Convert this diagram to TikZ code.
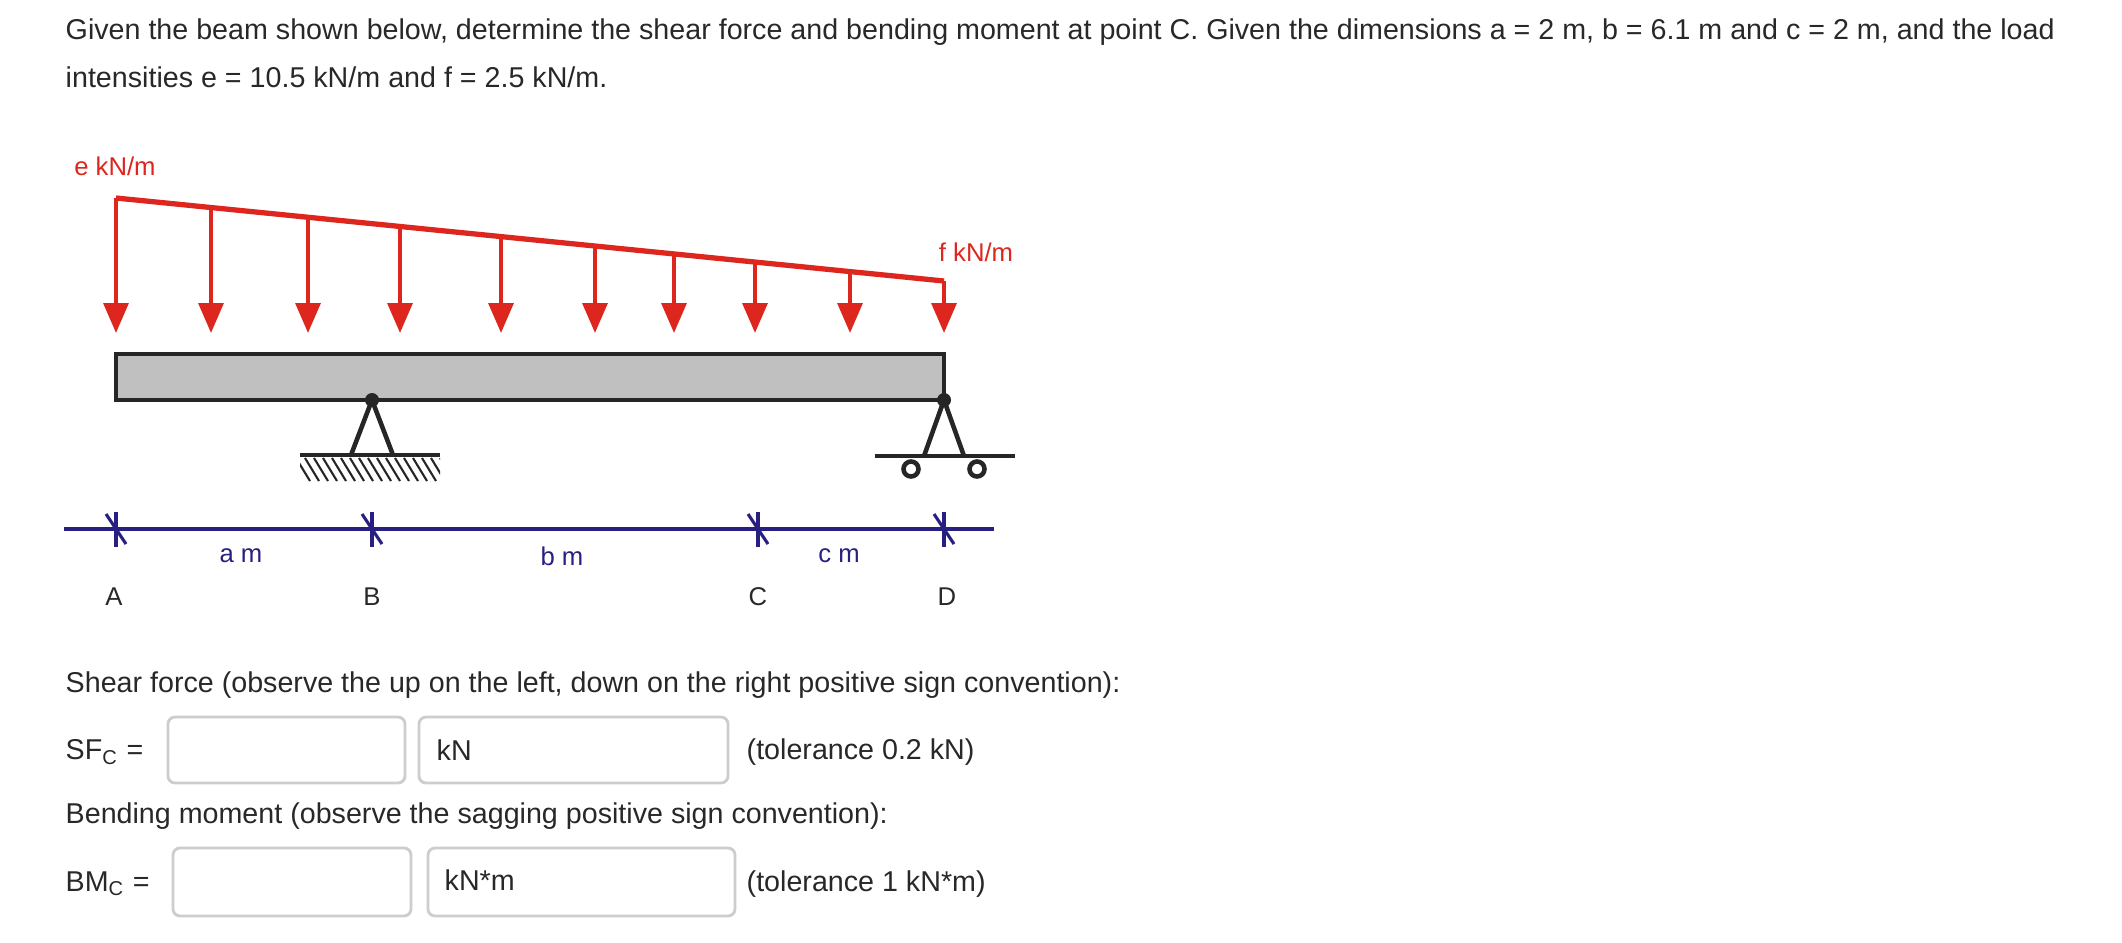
\documentclass[tikz,border=0pt]{standalone}
\usepackage{fontspec}
\setmainfont{Liberation Sans}
\usetikzlibrary{arrows.meta}
\definecolor{lred}{RGB}{221,38,30}
\definecolor{dimblue}{RGB}{40,32,128}
\definecolor{beamgray}{RGB}{192,192,192}
\definecolor{txt}{RGB}{40,40,40}
\definecolor{boxline}{RGB}{205,205,205}
\tikzset{
  q/.style={font=\fontsize{8.15}{10}\selectfont, text=txt, inner sep=0pt, anchor=west},
  lbl/.style={font=\fontsize{7.3}{8}\selectfont, inner sep=0pt},
  load/.style={draw=lred, line width=1.2pt, -{Triangle[length=8.5pt,width=7pt]}},
  ansbox/.style={draw=boxline, line width=0.8pt, rounded corners=2pt, fill=white},
  dimline/.style={draw=dimblue, line width=0.9pt},
  sup/.style={line width=1.3pt, draw=black!85}
}
\begin{document}
\begin{tikzpicture}[x=0.01cm,y=-0.01cm]
\useasboundingbox (0,0) rectangle (2122,942);
% question text
\node[q] (t1) at (65,32) {Given the beam shown below, determine the shear force and bending moment at point C. Given the dimensions a = 2 m, b = 6.1 m and c = 2 m, and the load};
\node[q] (t2) at (65,77) {intensities e = 10.5 kN/m and f = 2.5 kN/m.};
% load
\node[lbl, text=lred] (el) at (115,166) {e kN/m};
\node[lbl, text=lred] (fl) at (976,252) {f kN/m};
\coordinate (L0) at (116,198);
\coordinate (L1) at (944,281);
\draw[lred, line width=1.5pt] (L0) -- (L1);
\foreach \x [count=\i] in {116,211,308,400,501,595,674,755,850,944}{
  \pgfmathsetmacro\yy{198+(\x-116)/828*83}
  \coordinate (ls\i) at (\x,\yy);
  \coordinate (le\i) at (\x,333);
  \draw[load] (ls\i) -- (le\i);
}
% beam
\fill[beamgray, draw=black!85, line width=1pt] (116,354) rectangle (944,400);
% support B
\coordinate (pB) at (372,400);
\draw[sup] (pB) -- (351,455) (pB) -- (393,455);
\fill[black!85] (pB) circle (7);
\draw[sup] (300,455) -- (440,455);
\begin{scope}
\clip (300,456) rectangle (440,481);
\foreach \k in {0,...,16}{
  \draw[black!85, line width=0.6pt] (296+\k*9,458) -- (310+\k*9,481);
}
\end{scope}
% roller D
\coordinate (pD) at (944,400);
\draw[sup] (pD) -- (924,456) (pD) -- (964,456);
\fill[black!85] (pD) circle (7);
\draw[sup] (875,456) -- (1015,456);
\draw[black!85, line width=1.3pt, fill=white] (911,469) circle (7.5);
\draw[black!85, line width=1.3pt, fill=white] (977,469) circle (7.5);
% dimension line
\draw[dimline] (64,529) -- (994,529);
\foreach \x/\n in {116/A,372/B,758/C,944/D}{
  \draw[dimline] (\x,512) -- (\x,547);
  \draw[dimline] (\x-10,514) -- (\x+10,544);
}
\node[lbl, text=dimblue] (am) at (241,556) {a m};
\node[lbl, text=dimblue] (bm) at (562,556) {b m};
\node[lbl, text=dimblue] (cm) at (839,556) {c m};
\node[lbl, text=txt] (A) at (114,597) {A};
\node[lbl, text=txt] (B) at (372,597) {B};
\node[lbl, text=txt] (C) at (758,597) {C};
\node[lbl, text=txt] (D) at (947,597) {D};
% answers
\node[q] (sh) at (65,685) {Shear force (observe the up on the left, down on the right positive sign convention):};
\node[q] (sf) at (65,752) {SF\textsubscript{C} =};
\draw[ansbox] (168,717) rectangle (405,783);
\draw[ansbox] (419,717) rectangle (728,783);
\node[q] (kn) at (436,750) {kN};
\node[q] (tol1) at (746,752) {(tolerance 0.2 kN)};
\node[q] (bmt) at (65,816) {Bending moment (observe the sagging positive sign convention):};
\node[q] (bmc) at (65,884) {BM\textsubscript{C} =};
\draw[ansbox] (173,848) rectangle (411,916);
\draw[ansbox] (428,848) rectangle (735,916);
\node[q] (knm) at (444,880) {kN*m};
\node[q] (tol2) at (746,884) {(tolerance 1 kN*m)};
\end{tikzpicture}
\end{document}
